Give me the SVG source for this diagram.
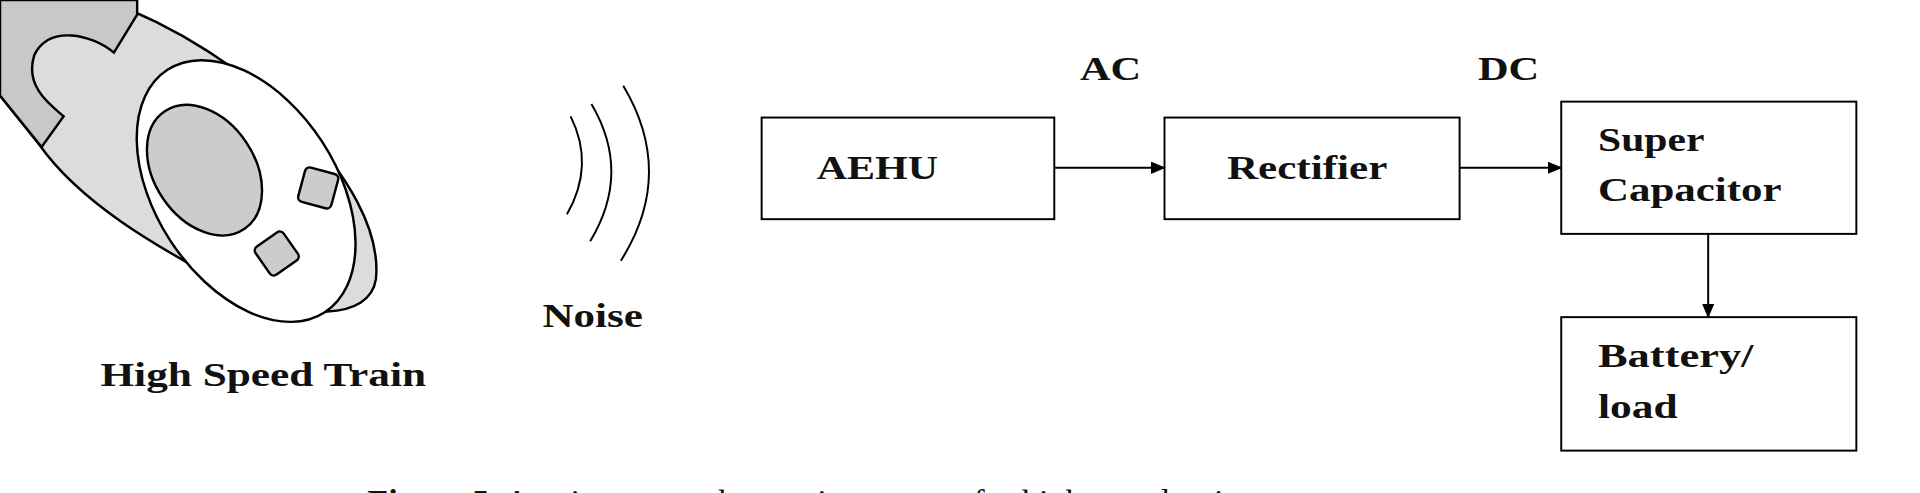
<svg xmlns="http://www.w3.org/2000/svg" width="1920" height="493" viewBox="0 0 1920 493">
<style>
.box{fill:#fff;stroke:#000;stroke-width:1.6}
.ln{fill:none;stroke:#000;stroke-width:1.6}
.t{font-family:"Liberation Serif","Times New Roman",serif;font-weight:bold;font-size:28px;fill:#111}
.sh{stroke:#000;stroke-width:2}
</style>
<defs><marker id="ar" markerWidth="12" markerHeight="10" refX="11" refY="5" orient="auto" markerUnits="userSpaceOnUse"><path d="M0,0 L12,5 L0,10 Z" fill="#000"/></marker></defs>
<rect width="1920" height="493" fill="#fff"/>
<g transform="scale(1.2245)">
<g id="train">
<path class="sh" fill="#dcdcdc" d="M 85 0 C 200 40 315 150 307 228 C 302 262 245 262 190 235 C 125 200 65 165 32 118 L 0 78 L 0 0 Z"/>
<path class="sh" fill="#c8c8c8" d="M 0 0 L 112 0 L 112 12 L 93 43 C 75 28 40 20 28 45 C 20 70 40 85 52 95 L 34 120 L 0 78 Z"/>
<ellipse class="sh" fill="#fff" cx="201" cy="156" rx="118" ry="74" transform="rotate(57 201 156)"/>
<ellipse class="sh" fill="#cccccc" cx="167" cy="139" rx="58" ry="41" transform="rotate(56 167 139)"/>
<rect class="sh" fill="#cccccc" x="246" y="139" width="28" height="29" rx="4" transform="rotate(15 260 153)"/>
<rect class="sh" fill="#cccccc" x="212" y="193" width="28" height="28" rx="4" transform="rotate(-35 226 207)"/>
<text class="t" x="82" y="315" textLength="266" lengthAdjust="spacingAndGlyphs">High Speed Train</text>
</g>
<g id="noise">
<path class="ln" d="M 466 95 Q 486 135 463 175"/>
<path class="ln" d="M 483 85 Q 516 141 482 197"/>
<path class="ln" d="M 509 70 Q 552 142 507 213"/>
<text class="t" x="443" y="267" textLength="82" lengthAdjust="spacingAndGlyphs">Noise</text>
</g>
<g id="aehu"><rect class="box" x="622" y="96" width="239" height="83"/><text class="t" x="667" y="146" textLength="99" lengthAdjust="spacingAndGlyphs">AEHU</text></g>
<g id="rectifier"><rect class="box" x="951" y="96" width="241" height="83"/><text class="t" x="1002" y="146" textLength="131" lengthAdjust="spacingAndGlyphs">Rectifier</text></g>
<g id="supercap"><rect class="box" x="1275" y="83" width="241" height="108"/><text class="t" x="1305" y="123" textLength="87" lengthAdjust="spacingAndGlyphs">Super</text><text class="t" x="1305" y="164" textLength="150" lengthAdjust="spacingAndGlyphs">Capacitor</text></g>
<g id="battery"><rect class="box" x="1275" y="259" width="241" height="109"/><text class="t" x="1305" y="300" textLength="127" lengthAdjust="spacingAndGlyphs">Battery/</text><text class="t" x="1305" y="341" textLength="65" lengthAdjust="spacingAndGlyphs">load</text></g>
<g id="labels">
<text class="t" x="882" y="65" textLength="50" lengthAdjust="spacingAndGlyphs">AC</text>
<text class="t" x="1207" y="65" textLength="50" lengthAdjust="spacingAndGlyphs">DC</text>
<text x="300" y="419" font-family="Liberation Serif, serif" font-size="28" fill="#111"><tspan font-weight="bold">Figure 5.</tspan> A noise energy harvesting system for high speed train</text>
</g>
<g id="connectors">
<line class="ln" x1="861" y1="137" x2="951" y2="137" marker-end="url(#ar)"/>
<line class="ln" x1="1192" y1="137" x2="1275" y2="137" marker-end="url(#ar)"/>
<line class="ln" x1="1395" y1="191" x2="1395" y2="259" marker-end="url(#ar)"/>
</g>
</g>
</svg>
